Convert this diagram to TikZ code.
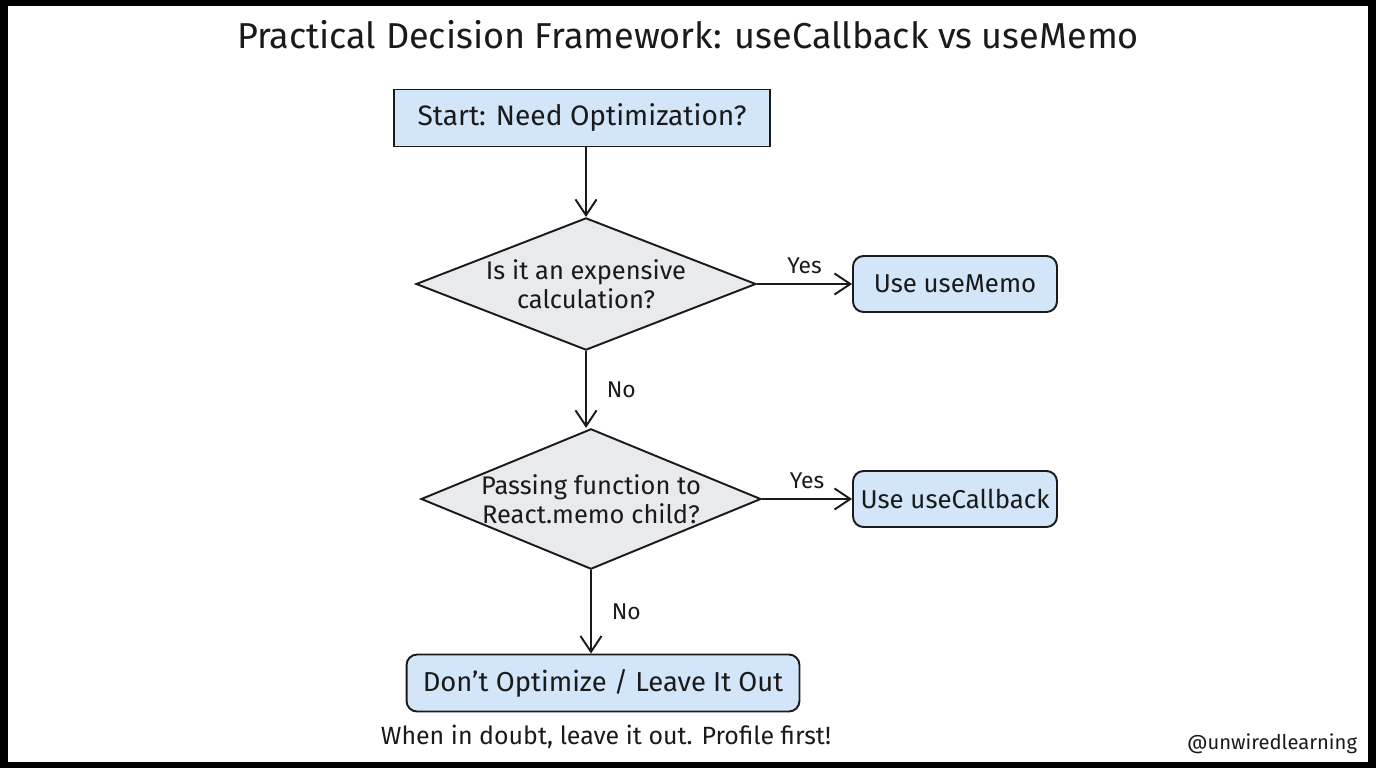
\documentclass[tikz,border=0pt]{standalone}
\usepackage{fontspec}
\setmainfont{Fira Sans}
\usetikzlibrary{shapes.geometric,arrows.meta}
\definecolor{boxblue}{HTML}{D3E5F8}
\definecolor{diagray}{HTML}{E8EAEE}
\definecolor{ink}{HTML}{1A1A1A}
\begin{document}
\begin{tikzpicture}[x=0.02cm,y=-0.02cm,
  every node/.style={text=ink},
  box/.style={draw=ink,line width=1.1pt,fill=boxblue,font=\fontsize{16}{19}\selectfont,inner sep=0pt},
  small/.style={font=\fontsize{14.7}{17}\selectfont},
  dia/.style={diamond,aspect=2.41,draw=ink,line width=1.1pt,fill=diagray,font=\fontsize{14.5}{16.5}\selectfont,align=center,inner sep=0pt,minimum width=6.8cm},
  arr/.style={draw=ink,line width=1.1pt,-{Straight Barb[length=9pt,width=12pt]}},
  lab/.style={font=\fontsize{13}{15}\selectfont}]
\fill[black] (0,0) rectangle (1376,768);
\fill[white] (8,6) rectangle (1368,762);
\useasboundingbox (0,0) rectangle (1376,768);
\node[font=\fontsize{20.5}{24}\selectfont] (title) at (688,35) {Practical Decision Framework: useCallback vs useMemo};
\node[box,minimum width=7.52cm,minimum height=1.14cm] (start) at (582,118) {Start: Need Optimization?};
\node[dia] (d1) at (586,284) {Is it an expensive\\calculation?};
\node[box,small,rounded corners=6pt,minimum width=4.08cm,minimum height=1.12cm] (memo) at (955,284) {Use useMemo};
\node[dia] (d2) at (591,499) {Passing function to\\React.memo child?};
\node[box,small,rounded corners=6pt,minimum width=4.08cm,minimum height=1.12cm] (cb) at (955,499) {Use useCallback};
\node[box,font=\fontsize{15.6}{18}\selectfont,rounded corners=6pt,minimum width=7.86cm,minimum height=1.14cm] (dont) at (603,683) {Don't Optimize / Leave It Out};
\draw[arr] (start.south -| d1.north) -- (d1.north);
\draw[arr] (d1.east) -- (memo.west) node[lab,midway,above=2pt] (y1) {Yes};
\draw[arr] (d1.south) -- (d2.north -| d1.south) node[lab,midway,right=8pt] (n1) {No};
\draw[arr] (d2.east) -- (cb.west) node[lab,midway,above=2pt] (y2) {Yes};
\draw[arr] (d2.south) -- (dont.north -| d2.south) node[lab,midway,right=8pt] (n2) {No};
\node[font=\fontsize{14.2}{16}\selectfont] (note) at (606,737) {When in doubt, leave it out. Profile first!};
\node[font=\fontsize{11.5}{14}\selectfont] (handle) at (1272,744) {@unwiredlearning};
\end{tikzpicture}
\end{document}
